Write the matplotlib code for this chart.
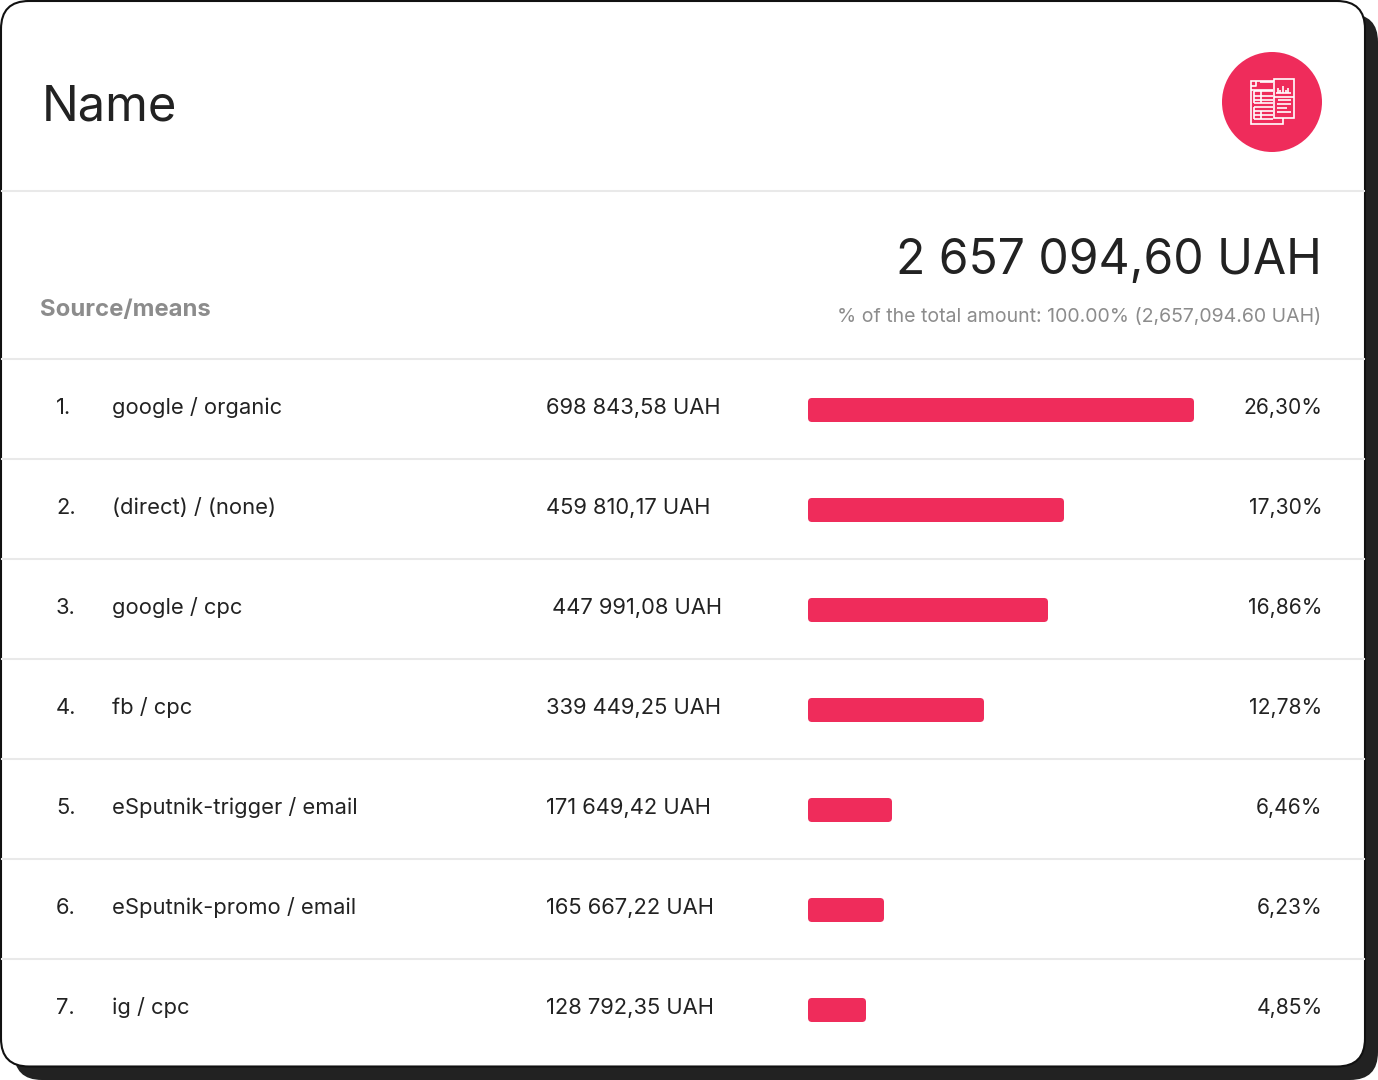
import matplotlib
matplotlib.use('Agg')
import matplotlib.pyplot as plt
from matplotlib.patches import FancyBboxPatch, Circle, Rectangle

plt.rcParams['font.family'] = ['Inter', 'DejaVu Sans']

# table data
ranks = ['1.', '2.', '3.', '4.', '5.', '6.', '7.']
sources = ['google / organic', '(direct) / (none)', 'google / cpc', 'fb / cpc',
           'eSputnik-trigger / email', 'eSputnik-promo / email', 'ig / cpc']
amounts = ['698 843,58 UAH', '459 810,17 UAH', ' 447 991,08 UAH', '339 449,25 UAH',
           '171 649,42 UAH', '165 667,22 UAH', '128 792,35 UAH']
percents = ['26,30%', '17,30%', '16,86%', '12,78%', '6,46%', '6,23%', '4,85%']
# bar lengths as drawn in the picture, they are not quite proportional to the percents
bar_lengths = [386, 256, 240, 176, 84, 76, 58]

title = 'Name'
column_name = 'Source/means'
total = '2 657 094,60 UAH'
total_note = '% of the total amount: 100.00% (2,657,094.60 UAH)'

RED = '#ef2c5b'
DARK = '#222222'
GREY = '#8c8c8c'
LINE = '#e9e9e9'

fig = plt.figure(figsize=(13.78, 10.8), dpi=100)
ax = fig.add_axes([0, 0, 1, 1])
# axes in pixels, y going down
ax.set_xlim(0, 1378)
ax.set_ylim(1080, 0)
ax.axis('off')


def rounded(x, y, w, h, r, **kw):
    p = FancyBboxPatch((x + r, y + r), w - 2 * r, h - 2 * r,
                       boxstyle=f'round,pad={r},rounding_size={r}', **kw)
    ax.add_patch(p)


# shadow and card
rounded(14, 14, 1364, 1066, 28, fc='#222222', ec='none', zorder=1)
rounded(1, 1, 1364, 1065.5, 28, fc='white', ec='#111111', lw=1.5, zorder=2)

# header
ax.text(42, 120.5, title, fontsize=35.2, color=DARK, va='baseline', zorder=3)
ax.add_patch(Circle((1272, 102), 50, fc=RED, ec='none', zorder=3))

# icon: two sheets with small tables and a chart
W = dict(color='white', lw=1.2, zorder=5, solid_capstyle='butt')
ax.add_patch(Rectangle((1250.5, 81), 32, 43, fc='none', ec='white', lw=1.2, zorder=4))
ax.add_patch(Rectangle((1273.5, 78.5), 20, 39, fc=RED, ec='white', lw=1.2, zorder=4))
ax.plot([1273.5, 1293.5], [97, 97], **W)
ax.plot([1250.5, 1255.5, 1255.5], [86, 86, 81], **W)
ax.plot([1260, 1273], [82, 82], **W)
ax.plot([1250.5, 1273], [90, 90], **W)
for yy in [91, 96, 100, 103]:
    ax.plot([1254, 1273], [yy, yy], **W)
ax.plot([1254, 1254], [91, 103], **W)
ax.plot([1261, 1261], [91, 103], **W)
for yy in [107, 111, 115, 119]:
    ax.plot([1254, 1273], [yy, yy], **W)
ax.plot([1254, 1254], [107, 119], **W)
ax.plot([1261, 1261], [111, 119], **W)
for xx, top in zip([1278, 1280, 1283, 1286, 1288], [88, 90, 86, 90, 88]):
    ax.plot([xx, xx], [top, 93], **W)
ax.plot([1276, 1291], [93, 93], **W)
ax.plot([1278, 1291], [100, 100], **W)
for yy, x1 in [(104, 1291), (108, 1287), (112, 1291)]:
    ax.plot([1277, x1], [yy, yy], **W)

# summary block
ax.text(1321.5, 274, total, fontsize=34.6, color=DARK, ha='right', va='baseline', zorder=3)
ax.text(1321.5, 322, total_note, fontsize=14.05, color=GREY, ha='right', va='baseline', zorder=3)
ax.text(40, 316, column_name, fontsize=17.2, fontweight='bold', color=GREY,
        va='baseline', zorder=3)

# separators
ax.plot([2, 1364], [191, 191], color=LINE, lw=1.5, zorder=3)
ax.plot([2, 1364], [359, 359], color=LINE, lw=1.5, zorder=3)

# rows
for i in range(len(ranks)):
    top = 359 + 100 * i
    base = top + 55
    ax.text(56, base, ranks[i], fontsize=15.8, color=DARK, va='baseline', zorder=3)
    ax.text(112, base, sources[i], fontsize=15.8, color=DARK, va='baseline', zorder=3)
    ax.text(546, base, amounts[i], fontsize=15.8, color=DARK, va='baseline', zorder=3)
    ax.text(1322.5, base, percents[i], fontsize=15.2, color=DARK, ha='right', va='baseline', zorder=3)
    rounded(808, top + 39, bar_lengths[i], 24, 4, fc=RED, ec='none', zorder=3)
    if i < len(ranks) - 1:
        ax.plot([2, 1364], [top + 100, top + 100], color=LINE, lw=1.5, zorder=3)

fig.savefig('out.png', dpi=100, facecolor='white')
